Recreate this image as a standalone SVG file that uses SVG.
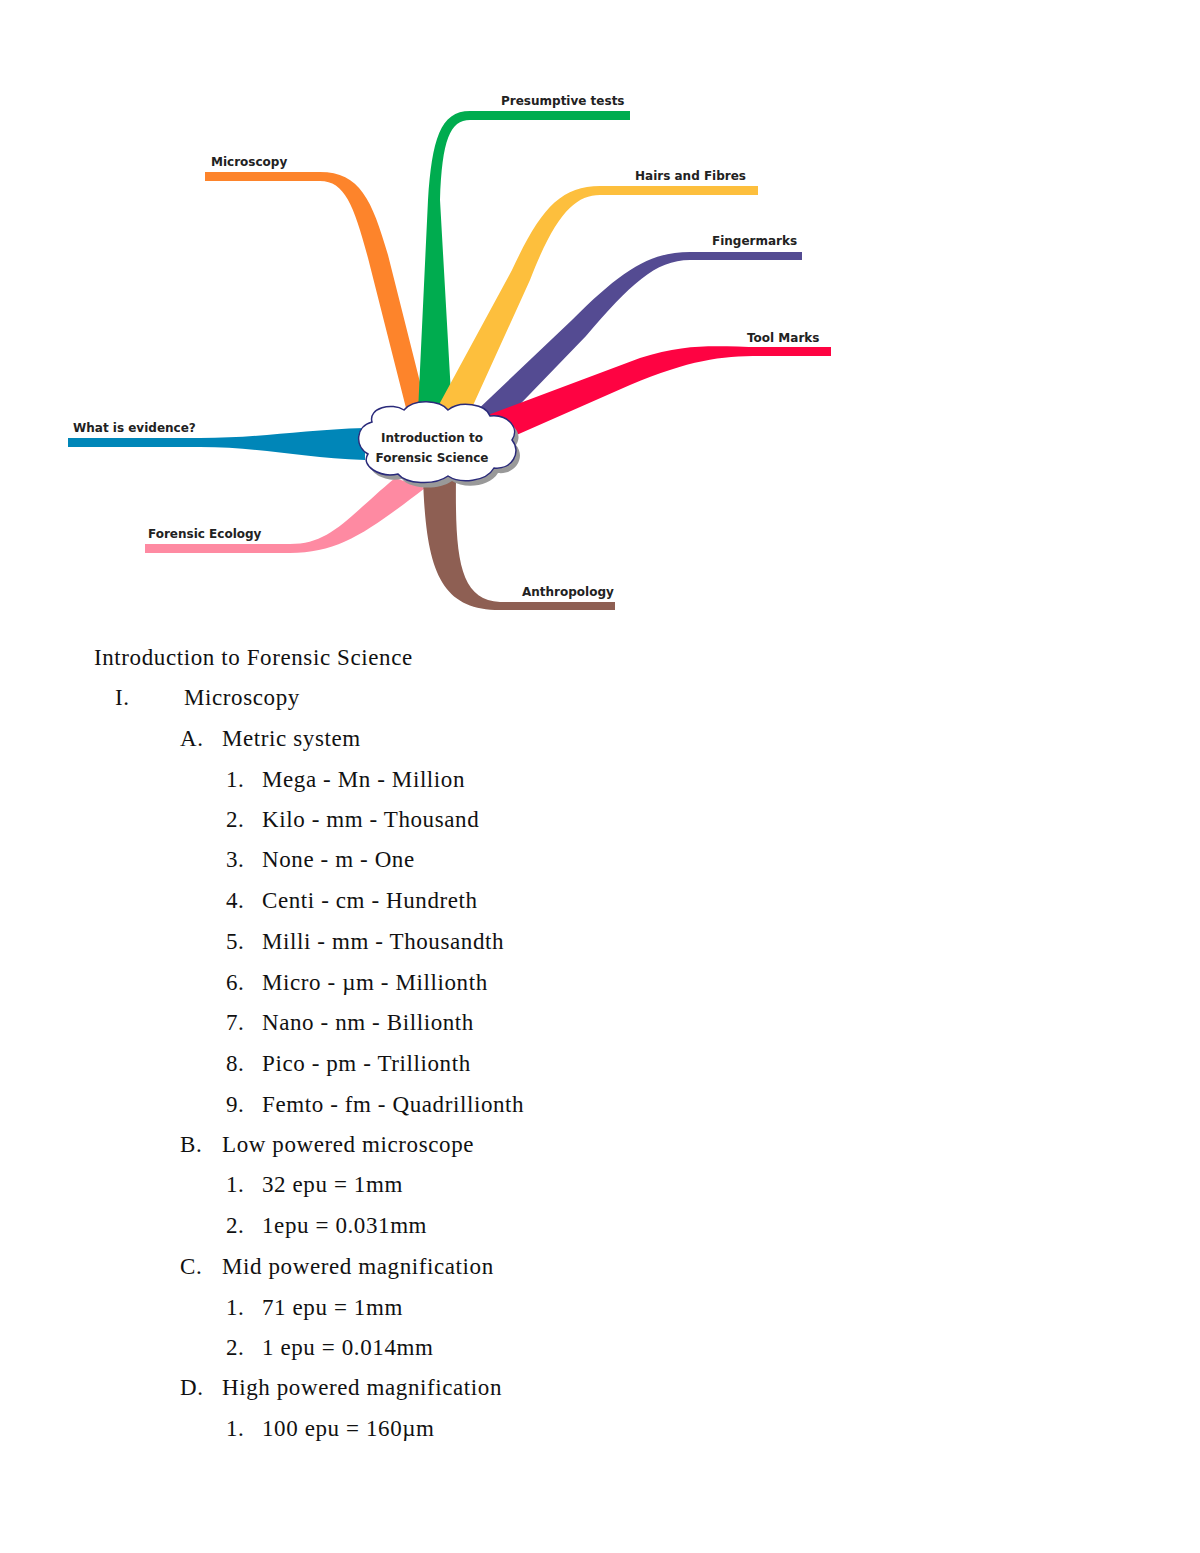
<svg xmlns="http://www.w3.org/2000/svg" width="1200" height="1553" viewBox="0 0 1200 1553">
<style>
.lb{font-family:"DejaVu Sans",sans-serif;font-size:12px;font-weight:bold;fill:#222}
.t{font-family:"Liberation Serif",serif;font-size:23px;letter-spacing:0.6px;fill:#111}
</style>
<rect width="1200" height="1553" fill="#fff"/>
<g id="connectors">
<path fill="#fd842b" d="M205,172 L320,172 C360,172 372,200 388,255 L427,410 L407,412 L368,258 C354,206 345,181 320,181 L205,181 Z"/>
<path fill="#00ac4f" d="M630,111 L470,111 C440,111 432,140 428,200 L418,412 L452,412 L440,200 C442,140 450,120 470,120 L630,120 Z"/>
<path fill="#fdbf3d" d="M758,186 L600,186 C560,186 540,210 512,270 L435,412 L470,412 L530,280 C555,215 575,195 600,195 L758,195 Z"/>
<path fill="#544b92" d="M802,252 L690,252 C650,252 622,270 572,320 L472,415 L500,425 L586,336 C630,285 655,260 690,260 L802,260 Z"/>
<path fill="#fe0342" d="M831,347 L760,347 C720,347 690,342 640,358 L488,415 L505,440 L630,385 C690,360 720,356 760,356 L831,356 Z"/>
<path fill="#0086b8" d="M68,438 L200,438 C260,438 300,430 365,428 L365,460 C300,458 260,447 200,447 L68,447 Z"/>
<path fill="#fe8aa2" d="M145,544 L290,544 C330,544 345,520 395,478 L425,488 C370,530 340,553 290,553 L145,553 Z"/>
<path fill="#8e5f53" d="M423,478 L456,478 C455,560 460,600 500,602 L615,602 L615,610 L500,610 C440,610 426,570 423,478 Z"/>
</g>
<g id="center">
<path fill="#999" transform="translate(4,5)" d="M372,422 C368,408 392,402 404,410 C414,398 440,400 448,410 C460,400 486,404 490,416 C508,414 520,428 512,440 C522,452 512,470 494,468 C486,482 460,484 448,476 C434,486 406,484 398,474 C380,478 360,466 368,454 C354,446 356,426 372,422 Z"/>
<path fill="#fff" stroke="#2a2a7a" stroke-width="1.5" d="M372,422 C368,408 392,402 404,410 C414,398 440,400 448,410 C460,400 486,404 490,416 C508,414 520,428 512,440 C522,452 512,470 494,468 C486,482 460,484 448,476 C434,486 406,484 398,474 C380,478 360,466 368,454 C354,446 356,426 372,422 Z"/>
<text class="lb" x="432" y="442" text-anchor="middle">Introduction to</text>
<text class="lb" x="432" y="462" text-anchor="middle">Forensic Science</text>
</g>
<g id="labels">
<text class="lb" x="501" y="105">Presumptive tests</text>
<text class="lb" x="211" y="166">Microscopy</text>
<text class="lb" x="635" y="180">Hairs and Fibres</text>
<text class="lb" x="712" y="245">Fingermarks</text>
<text class="lb" x="747" y="342">Tool Marks</text>
<text class="lb" x="73" y="432">What is evidence?</text>
<text class="lb" x="148" y="538">Forensic Ecology</text>
<text class="lb" x="522" y="596">Anthropology</text>
</g>
<g id="outline">
<text class="t" x="94" y="665">Introduction to Forensic Science</text>
<text class="t" x="115" y="705">I.</text><text class="t" x="184" y="705">Microscopy</text>
<text class="t" x="180" y="746">A.</text><text class="t" x="222" y="746">Metric system</text>
<text class="t" x="226" y="787">1.</text><text class="t" x="262" y="787">Mega - Mn - Million</text>
<text class="t" x="226" y="827">2.</text><text class="t" x="262" y="827">Kilo - mm - Thousand</text>
<text class="t" x="226" y="867">3.</text><text class="t" x="262" y="867">None - m - One</text>
<text class="t" x="226" y="908">4.</text><text class="t" x="262" y="908">Centi - cm - Hundreth</text>
<text class="t" x="226" y="949">5.</text><text class="t" x="262" y="949">Milli - mm - Thousandth</text>
<text class="t" x="226" y="990">6.</text><text class="t" x="262" y="990">Micro - µm - Millionth</text>
<text class="t" x="226" y="1030">7.</text><text class="t" x="262" y="1030">Nano - nm - Billionth</text>
<text class="t" x="226" y="1071">8.</text><text class="t" x="262" y="1071">Pico - pm - Trillionth</text>
<text class="t" x="226" y="1112">9.</text><text class="t" x="262" y="1112">Femto - fm - Quadrillionth</text>
<text class="t" x="180" y="1152">B.</text><text class="t" x="222" y="1152">Low powered microscope</text>
<text class="t" x="226" y="1192">1.</text><text class="t" x="262" y="1192">32 epu = 1mm</text>
<text class="t" x="226" y="1233">2.</text><text class="t" x="262" y="1233">1epu = 0.031mm</text>
<text class="t" x="180" y="1274">C.</text><text class="t" x="222" y="1274">Mid powered magnification</text>
<text class="t" x="226" y="1315">1.</text><text class="t" x="262" y="1315">71 epu = 1mm</text>
<text class="t" x="226" y="1355">2.</text><text class="t" x="262" y="1355">1 epu = 0.014mm</text>
<text class="t" x="180" y="1395">D.</text><text class="t" x="222" y="1395">High powered magnification</text>
<text class="t" x="226" y="1436">1.</text><text class="t" x="262" y="1436">100 epu = 160µm</text>
</g>
</svg>
